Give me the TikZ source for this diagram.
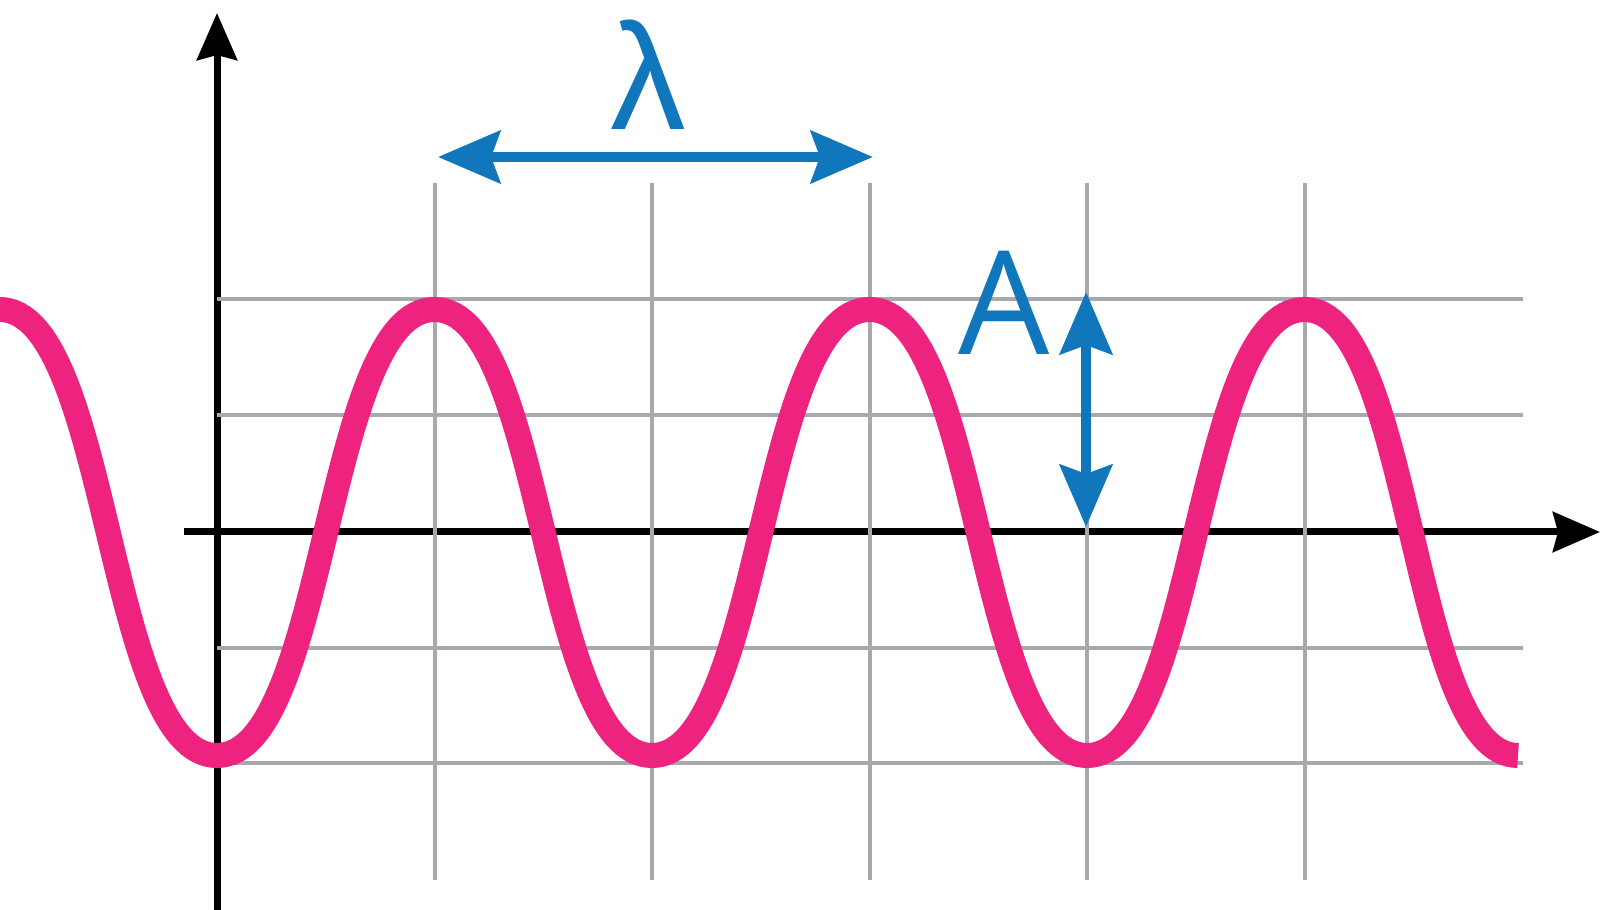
\documentclass[tikz,border=0pt]{standalone}
\usepackage{fontspec}
\setmainfont{Open Sans}
\newfontfamily\lamfont{Liberation Sans}
\usetikzlibrary{arrows.meta}
\definecolor{wave}{RGB}{238,35,127}
\definecolor{lab}{RGB}{17,119,189}
\definecolor{gridc}{RGB}{167,169,172}
\begin{document}
\begin{tikzpicture}[x=0.01cm,y=-0.01cm,
  gridline/.style={draw=gridc,line width=0.04cm},
  axisline/.style={draw=black,line width=0.07cm,-{Stealth[length=0.47cm,width=0.40cm,inset=0.05cm]}},
  measure/.style={draw=lab,line width=0.105cm,{Stealth[length=0.62cm,width=0.52cm,inset=0.09cm]}-{Stealth[length=0.62cm,width=0.52cm,inset=0.09cm]}},
  wavecurve/.style={draw=wave,line width=0.25cm},
  tag/.style={text=lab,font=\fontsize{41}{41}\selectfont,inner sep=0pt,anchor=base}]
\useasboundingbox (0,0) rectangle (1600,910);
% axes
\coordinate (yb) at (217,910);
\coordinate (yt) at (217,13);
\coordinate (xl) at (184,532);
\coordinate (xr) at (1600,532);
\draw[axisline] (yb) -- (yt);
\draw[axisline] (xl) -- (xr);
% grid
\foreach \i in {1,...,5}
  \draw[gridline] ({217+217.5*\i},183) -- ({217+217.5*\i},880);
\foreach \yy in {299,415.5,648.5,763}
  \draw[gridline] (217,\yy) -- (1523,\yy);
% wave
\draw[wavecurve] (-0.5,309.5)
  .. controls +(110,0) and +(-110,0) .. (217,755.5)
  .. controls +(110,0) and +(-110,0) .. (434.5,309.5)
  .. controls +(110,0) and +(-110,0) .. (652,755.5)
  .. controls +(110,0) and +(-110,0) .. (869.5,309.5)
  .. controls +(110,0) and +(-110,0) .. (1087,755.5)
  .. controls +(110,0) and +(-110,0) .. (1304.5,309.5)
  .. controls +(108,0) and +(-108,0) .. (1518,755.5);
% wavelength
\coordinate (l1) at (438,157);
\coordinate (l2) at (873,157);
\draw[measure] (l1) -- (l2);
\node[tag,font=\lamfont\fontsize{43}{43}\selectfont] (lambda) at (648,130) {λ};
% amplitude
\coordinate (a1) at (1086,292);
\coordinate (a2) at (1086,527);
\draw[measure] (a1) -- (a2);
\node[tag] (amp) at (1004,355) {A};
\end{tikzpicture}
\end{document}
